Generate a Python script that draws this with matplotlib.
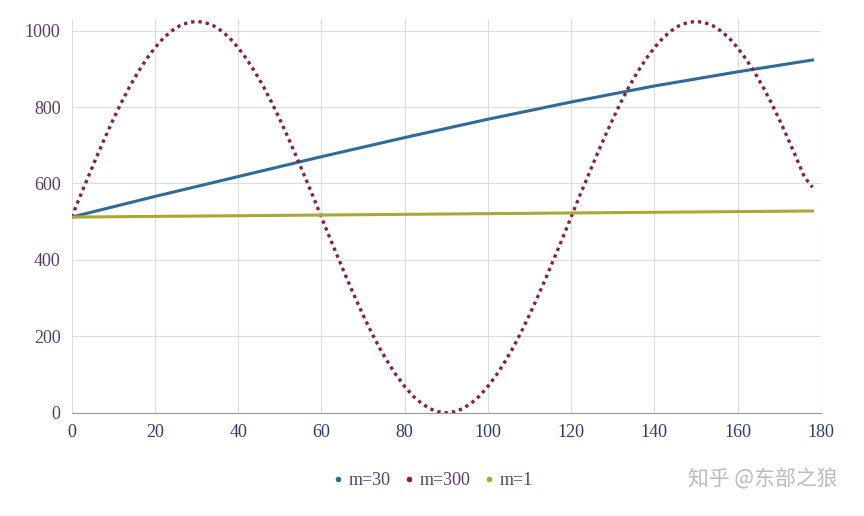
import matplotlib
matplotlib.use("Agg")
import matplotlib.pyplot as plt

x300 = list(range(0, 179, 2))
y300 = [512,566,618,670,720,768,813,855,892,926,955,980,999,1013,1021,1024,
        1021,1013,999,980,955,926,892,855,813,768,720,670,618,566,512,
        458,406,354,304,256,211,169,132,98,69,44,25,11,3,0,
        3,11,25,44,69,98,132,169,211,256,304,354,406,458,512,
        566,618,670,720,768,813,855,892,926,955,980,999,1013,1021,1024,
        1021,1013,999,980,955,926,892,855,813,768,720,670,618,590]
x30 = [0,20,40,60,80,100,120,140,160,178]
y30 = [512,566,618,670,720,768,813,855,892,923]
x1 = [0,178]
y1 = [512,528]

plt.rcParams['font.family'] = ['Liberation Serif', 'DejaVu Serif']
fig = plt.figure(figsize=(8.64,5.16), dpi=100)
ax = fig.add_axes([0.083, 0.2, 0.867, 0.763])
ax.plot(x30, y30, color='#2f6a98', lw=2.2, label='m=30')
ax.plot(x300, y300, color='#8a1f45', lw=2.4, ls=(0,(1,1.2)), label='m=300')
ax.plot(x1, y1, color='#a9a832', lw=2.2, label='m=1')
ax.set_xlim(0,180); ax.set_ylim(0,1030)
ax.set_xticks(range(0,181,20)); ax.set_yticks(range(0,1001,200))
ax.grid(color='#dddddd', lw=0.8)
for s in ax.spines.values(): s.set_visible(False)
ax.spines['bottom'].set_visible(True); ax.spines['bottom'].set_color('#999999')
ax.tick_params(length=0, labelsize=13, pad=8)
for t in ax.get_yticklabels(): t.set_color('#5b3a68')
for t in ax.get_xticklabels(): t.set_color('#2b3d6b')
from matplotlib.lines import Line2D
h = [Line2D([],[],ls='',marker='o',ms=3,color=c) for c in ['#2f6a98','#8a1f45','#a9a832']]
fig.legend(h, ['m=30','m=300','m=1'], loc='lower center', bbox_to_anchor=(0.5,0.02),
           ncol=3, frameon=False, fontsize=13, handletextpad=0.2, columnspacing=0.6,
           handlelength=0.8, labelcolor='#5b3a68')
fig.text(0.97, 0.05, '知乎 @东部之狼', ha='right', va='bottom', fontsize=15, color='#bbbbbb',
         family=['Noto Sans CJK SC','DejaVu Sans'])
fig.savefig('out.png', dpi=100, facecolor='white')
